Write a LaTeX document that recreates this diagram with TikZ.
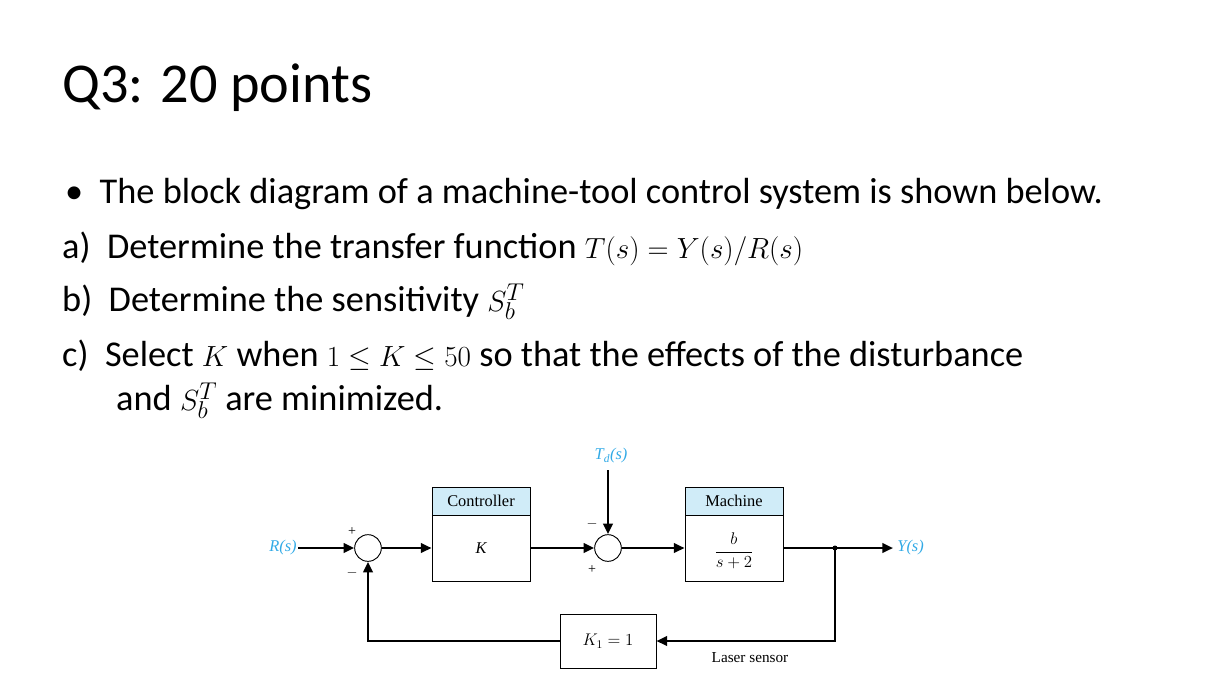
\documentclass[tikz,border=0pt]{standalone}
\usepackage{fontspec}
\setmainfont{Carlito}
\newfontfamily\diag{Liberation Serif}
\usetikzlibrary{arrows.meta}
\definecolor{hdr}{RGB}{208,236,248}
\definecolor{lbl}{RGB}{50,170,230}
\tikzset{
 txt/.style={anchor=base west,inner sep=0pt,font=\fontsize{31}{36}\selectfont},
 blk/.style={draw,line width=0.8pt,minimum width=2.94cm,minimum height=1.98cm,inner sep=0pt},
 hd/.style={draw,line width=0.8pt,fill=hdr,minimum width=2.94cm,minimum height=0.84cm,inner sep=0pt,font=\diag\fontsize{14}{16}\selectfont},
 sum/.style={draw,circle,minimum size=0.8cm,inner sep=0pt,line width=0.8pt},
 sig/.style={line width=2pt,-{Triangle[length=9pt,width=8pt]}},
 wire/.style={line width=2pt},
 dl/.style={font=\diag\fontsize{14}{16}\selectfont\itshape,inner sep=1pt},
 sg/.style={font=\diag\fontsize{12}{14}\selectfont,inner sep=0pt}
}
\begin{document}
\begin{tikzpicture}[x=0.03cm,y=-0.03cm]
\useasboundingbox (0,0) rectangle (1230,689);
\node[txt,font=\fontsize{48}{56}\selectfont] (title) at (62,102) {Q3: 20 points};
\node[txt] (l0) at (65,203) {\textbullet\ \ The block diagram of a machine-tool control system is shown below.};
\node[txt] (la) at (62,258) {a)\ \ Determine the transfer function $T(s)=Y(s)/R(s)$};
\node[txt] (lb) at (62,311) {b)\ \ Determine the sensitivity $S_b^T$};
\node[txt] (lc) at (62,366) {c)\ \ Select $K$ when $1\le K\le 50$ so that the effects of the disturbance};
\node[txt] (ld) at (116,410) {and $S_b^T$ are minimized.};

% diagram
\node[dl,text=lbl] (R) at (283,548) {R(s)};
\node[sum] (s1) at (368,548) {};
\node[blk] (ctl) at (481,548) {};
\node[hd] (ctlh) at (481,501) {Controller};
\node[dl] at (481,548) {K};
\node[sum] (s2) at (608,548) {};
\node[blk] (mac) at (734,548) {};
\node[hd] (mach) at (734,501) {Machine};
\node[inner sep=0pt,font=\diag\fontsize{14}{16}\selectfont] at (734,551) {$\displaystyle\frac{b}{s+2}$};
\coordinate (br) at (835,548);
\coordinate (yend) at (893,548);
\coordinate (tdtop) at (608,470);
\node[dl,text=lbl,anchor=west] (Y) at (896,548) {Y(s)};
\node[dl,text=lbl] (Td) at (611,456) {T\textsubscript{\textit{d}}(s)};
\node[draw,line width=0.8pt,minimum width=2.88cm,minimum height=1.62cm,inner sep=0pt,font=\diag\fontsize{14}{16}\selectfont] (k1) at (608,641) {$K_1=1$};
\node[font=\diag\fontsize{13}{15}\selectfont] (ls) at (750,658) {Laser sensor};

\draw[sig] (R.east) -- (s1.west);
\draw[sig] (s1.east) -- (ctl.west);
\draw[sig] (ctl.east) -- (s2.west);
\draw[sig] (s2.east) -- (mac.west);
\draw[wire] (mac.east) -- (br);
\draw[sig] (br) -- (yend);
\fill (br) circle (2.5);
\draw[sig] (tdtop) -- (s2.north);
\draw[sig] (br) |- (k1.east);
\draw[sig] (k1.west) -| (s1.south);

\node[sg] at (352,532) {+};
\node[sg] at (352,573) {$-$};
\node[sg] at (592,524) {$-$};
\node[sg] at (592,570) {+};
\end{tikzpicture}
\end{document}
